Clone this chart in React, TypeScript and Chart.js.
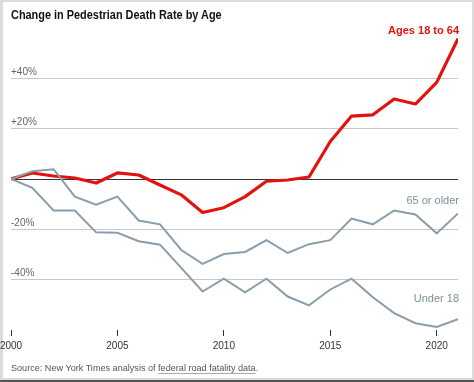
import React, { useEffect, useRef } from "react";
import { Chart, registerables } from "chart.js";

Chart.register(...registerables);

const years = [2000, 2001, 2002, 2003, 2004, 2005, 2006, 2007, 2008, 2009, 2010, 2011, 2012, 2013, 2014, 2015, 2016, 2017, 2018, 2019, 2020, 2021];
const ages18to64 = [0, 2.4, 1.2, 0.4, -1.6, 2.4, 1.6, -2.4, -6.3, -13.3, -11.4, -7, -0.9, -0.4, 0.8, 14.9, 25, 25.5, 31.8, 29.8, 38.4, 55.7];
const older65 = [0, 3.1, 3.9, -7, -10.2, -7, -16.5, -18, -28.2, -33.7, -29.8, -29, -24.3, -29.4, -25.9, -24.3, -15.7, -18, -12.5, -14.1, -21.6, -13.7];
const under18 = [0, -3.5, -12.5, -12.5, -21.2, -21.4, -24.7, -26.1, -35.3, -44.7, -39.6, -45, -39.6, -46.7, -50.2, -43.9, -39.6, -47, -53.3, -57.3, -58.8, -55.7];
const xTickValues = [2000, 2005, 2010, 2015, 2020];
const yTickValues = [-40, -20, 0, 20, 40];
const seriesNames = ["Ages 18 to 64", "65 or older", "Under 18"];

const FONT = '"Liberation Sans", Arial, sans-serif';
const RED = "#e2130f";
const GRAY = "#8a9dab";
const LABEL_GRAY = "#7d909d";

const seriesLabelPlugin = {
  id: "seriesLabels",
  afterDatasetsDraw(chart: any) {
    const { ctx, chartArea, scales } = chart;
    const items = [
      { text: seriesNames[0], at: 58.8, color: RED, bold: true },
      { text: seriesNames[1], at: -8.6, color: LABEL_GRAY, bold: false },
      { text: seriesNames[2], at: -47.8, color: LABEL_GRAY, bold: false },
    ];
    ctx.save();
    ctx.textAlign = "right";
    ctx.textBaseline = "middle";
    for (const it of items) {
      ctx.font = `${it.bold ? "bold " : ""}11px ${FONT}`;
      ctx.fillStyle = it.color;
      ctx.fillText(it.text, chartArea.right + 1, scales.y.getPixelForValue(it.at));
    }
    ctx.restore();
  },
};

export default function App() {
  const ref = useRef<HTMLCanvasElement>(null);
  useEffect(() => {
    if (!ref.current) return;
    const toPts = (arr: number[]) => years.map((yr, i) => ({ x: yr, y: arr[i] }));
    const chart = new Chart(ref.current, {
      type: "line",
      data: {
        datasets: [
          { label: seriesNames[2], data: toPts(under18), borderColor: GRAY, borderWidth: 2, pointRadius: 0, tension: 0 },
          { label: seriesNames[1], data: toPts(older65), borderColor: GRAY, borderWidth: 2, pointRadius: 0, tension: 0 },
          { label: seriesNames[0], data: toPts(ages18to64), borderColor: RED, borderWidth: 3.2, pointRadius: 0, tension: 0, borderJoinStyle: "round" },
        ],
      },
      options: {
        responsive: false,
        animation: false,
        layout: { padding: { left: 11, right: 16, top: 28, bottom: 26 } },
        plugins: { legend: { display: false }, tooltip: { enabled: false } },
        scales: {
          x: {
            type: "linear",
            min: 2000,
            max: 2021,
            afterBuildTicks: (axis: any) => {
              axis.ticks = xTickValues.map((v) => ({ value: v }));
            },
            afterFit: (axis: any) => {
              axis.paddingLeft = 0;
              axis.paddingRight = 0;
            },
            ticks: {
              callback: (v: any) => String(v),
              font: { family: FONT, size: 10 },
              color: "#333",
              padding: 4,
              maxRotation: 0,
              autoSkip: false,
            },
            grid: { drawOnChartArea: false, drawTicks: true, tickLength: 6, color: "#333", lineWidth: 1 },
            border: { display: false },
          },
          y: {
            min: -60,
            max: 60,
            afterBuildTicks: (axis: any) => {
              axis.ticks = yTickValues.map((v) => ({ value: v }));
            },
            afterFit: (axis: any) => {
              axis.paddingTop = 0;
              axis.paddingBottom = 0;
            },
            ticks: {
              mirror: true,
              padding: 0,
              labelOffset: -6,
              callback: (v: any) => (v === 0 ? "" : (v > 0 ? "+" : "") + v + "%"),
              color: "#666",
              font: { family: FONT, size: 10 },
            },
            grid: {
              drawTicks: false,
              color: (c: any) => (c.tick && c.tick.value === 0 ? "#333" : "#c8c8c8"),
              lineWidth: 1,
            },
            border: { display: false },
          },
        },
      },
      plugins: [seriesLabelPlugin],
    } as any);
    return () => chart.destroy();
  }, []);

  return (
    <div style={{ position: "absolute", left: 0, top: 0, width: 474, height: 382, background: "#dcdcdc", overflow: "hidden" }}>
      <div style={{ position: "absolute", left: 3, top: 2, width: 469, height: 376, background: "#fff" }} />
      <div style={{ position: "absolute", left: 0, top: 380, width: 474, height: 2, background: "#555" }} />
      <canvas ref={ref} width={474} height={382} style={{ position: "absolute", left: 0, top: 0, width: 474, height: 382, display: "block" }} />
      <div
        style={{
          position: "absolute",
          left: 11,
          top: 7,
          fontFamily: FONT,
          fontWeight: "bold",
          fontSize: 12.5,
          lineHeight: "16px",
          color: "#121212",
          whiteSpace: "nowrap",
          transform: "scaleX(0.873)",
          transformOrigin: "left center",
        }}
      >
        Change in Pedestrian Death Rate by Age
      </div>
      <div
        style={{
          position: "absolute",
          left: 11,
          top: 362,
          fontFamily: FONT,
          fontSize: 9.1,
          lineHeight: "12px",
          color: "#555",
          whiteSpace: "nowrap",
        }}
      >
        Source: New York Times analysis of{" "}
        <span style={{ textDecoration: "underline", textDecorationColor: "#aaa", textUnderlineOffset: 2 }}>
          federal road fatality data
        </span>
        .
      </div>
    </div>
  );
}
